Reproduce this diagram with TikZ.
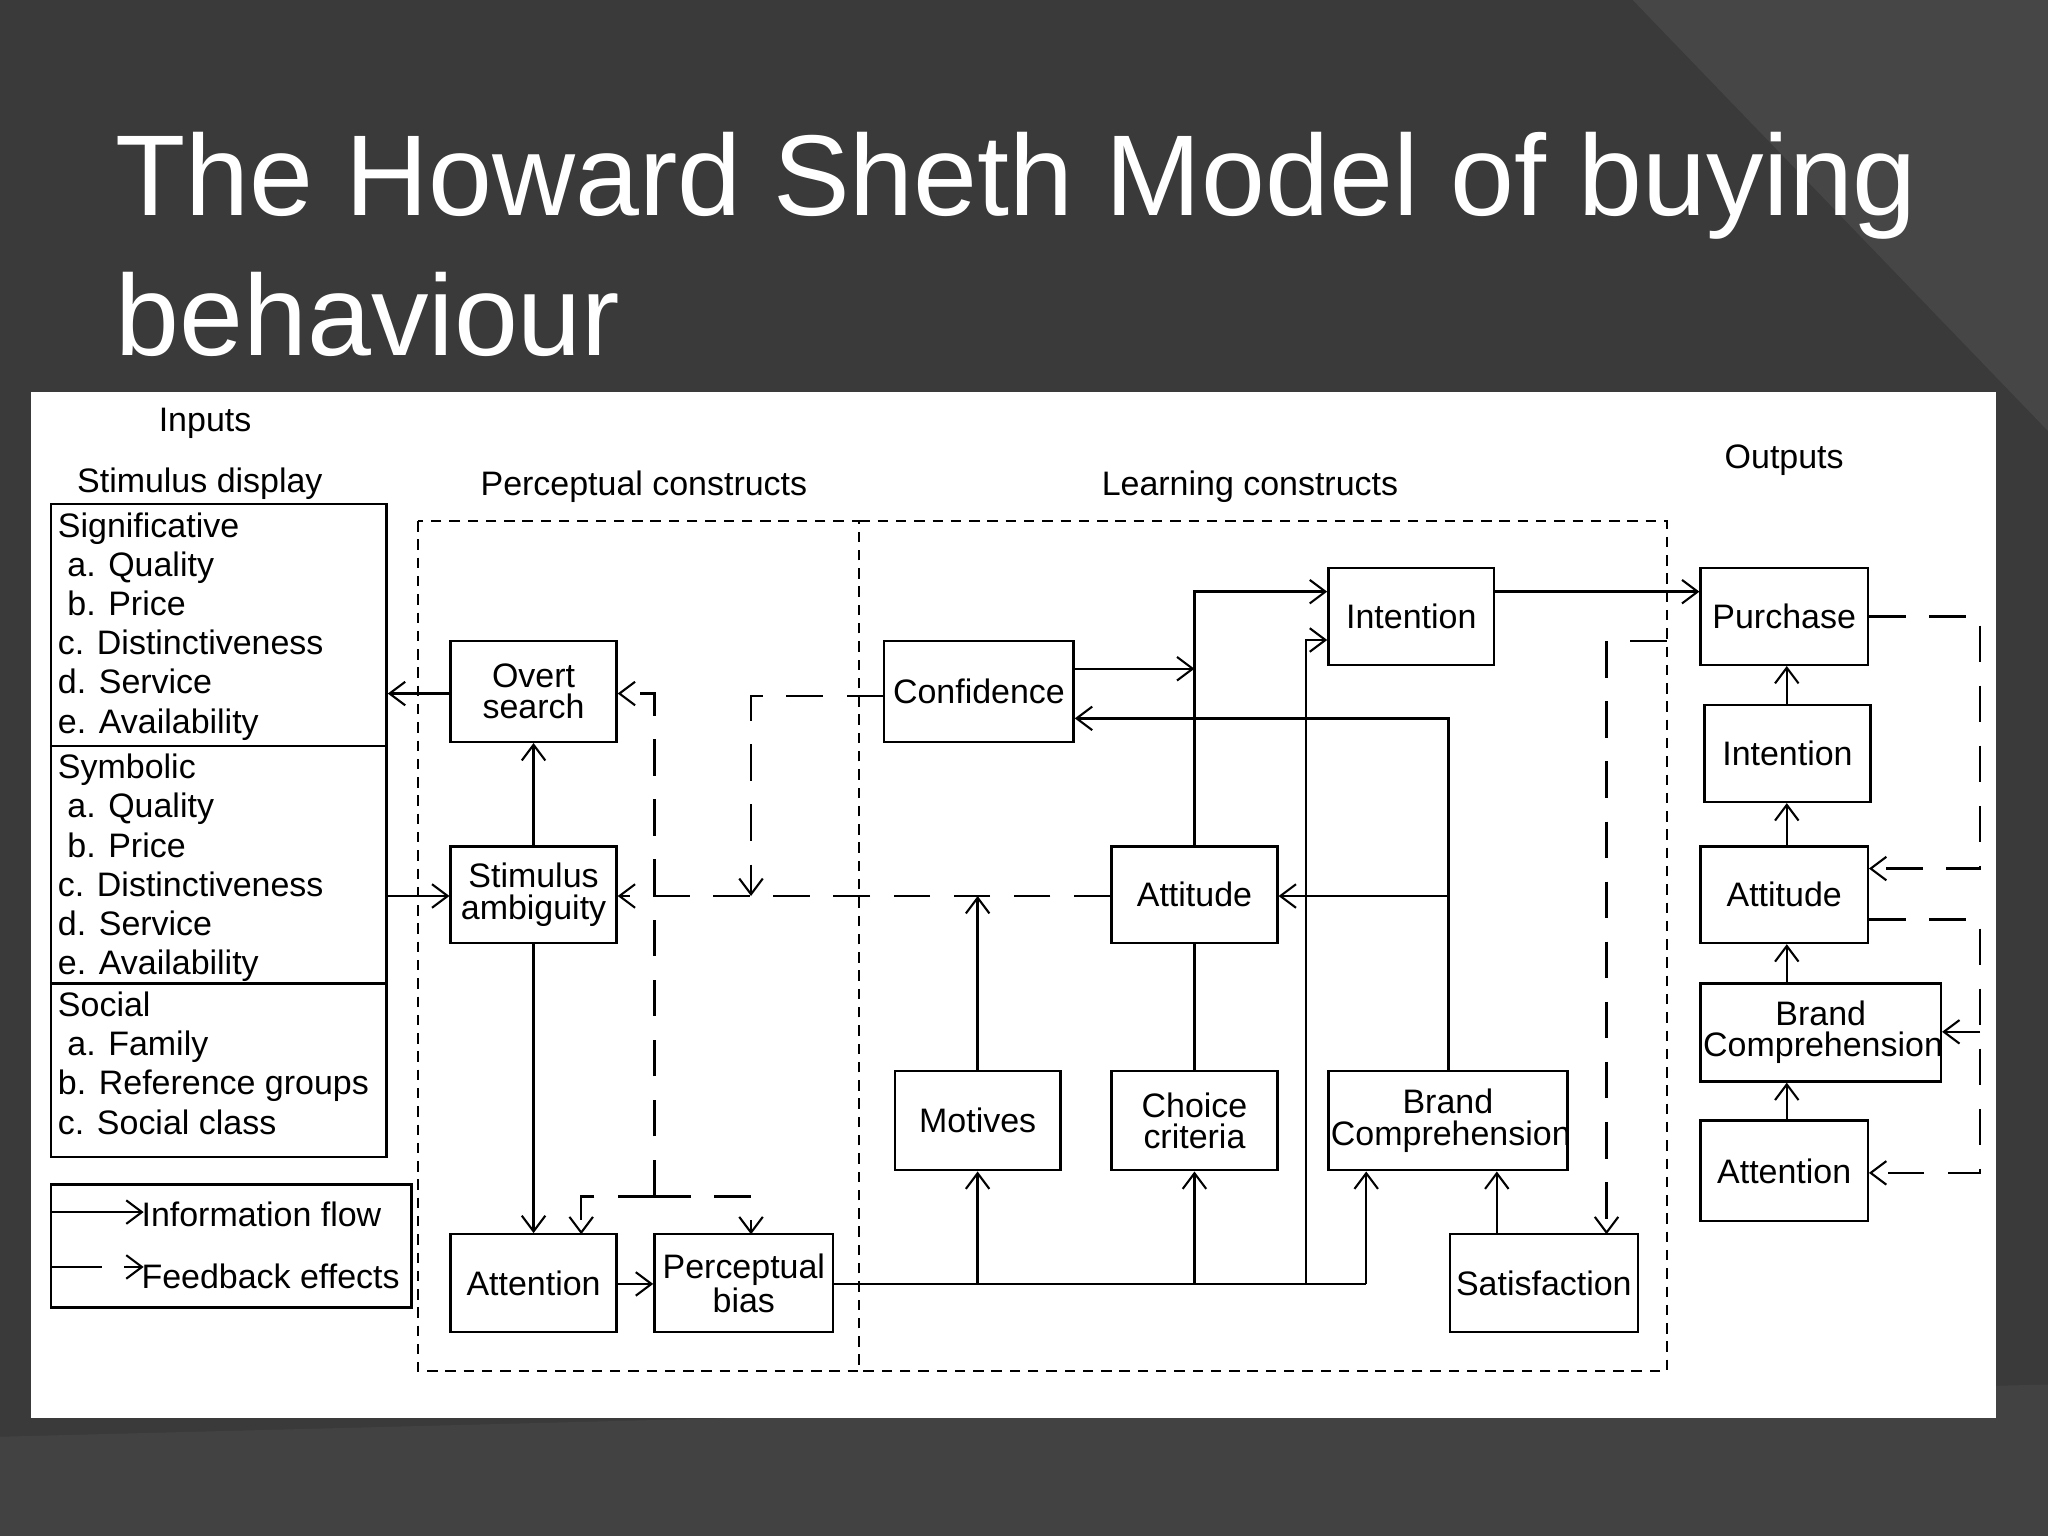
\documentclass[tikz,border=0pt]{standalone}
\usepackage{fontspec}
\setmainfont{Liberation Sans}
\usetikzlibrary{arrows.meta}
\tikzset{
 box/.style={draw,line width=0.9pt,inner sep=0pt,align=center,font=\fontsize{13}{12}\selectfont},
 lbl/.style={font=\fontsize{13}{14}\selectfont,inner sep=0pt},
 tip/.style={-{Straight Barb[length=6pt,width=9pt,line width=0.8pt]}},
 flow/.style={line width=0.9pt},
 fb/.style={line width=0.9pt,dash pattern=on 14pt off 9pt},
 region/.style={line width=0.8pt,dash pattern=on 4pt off 3pt}
}
\newcommand\bx[6]{\node[box,minimum width={(#4-#2)*0.5pt},minimum height={(#5-#3)*0.5pt},text width={(#4-#2)*0.5pt-2pt}] (#1) at ({(#2+#4)/2},{(#3+#5)/2}) {#6};}
\begin{document}
\begin{tikzpicture}[x=0.5pt,y=-0.5pt]
\useasboundingbox (0,0) rectangle (1568,1176);
\fill[fill={rgb,255:red,58;green,58;blue,58}] (0,0) rectangle (1568,1176);
\fill[fill={rgb,255:red,70;green,70;blue,70}] (1250,0) -- (1568,0) -- (1568,330) -- cycle;
\fill[fill={rgb,255:red,66;green,66;blue,66}] (0,1100) -- (1568,1060) -- (1568,1176) -- (0,1176) -- cycle;
\node[anchor=base west,text=white,font=\fontsize{44}{50}\selectfont,inner sep=0pt] (t1) at (88,165) {The Howard Sheth Model of buying};
\node[anchor=base west,text=white,font=\fontsize{44}{50}\selectfont,inner sep=0pt] (t2) at (88,272) {behaviour};
\fill[white] (24,300) rectangle (1528,1086);
% labels
\node[lbl] (l1) at (157,324) {Inputs};
\node[lbl] (l2) at (153,370) {Stimulus display};
\node[lbl] (l3) at (493,373) {Perceptual constructs};
\node[lbl] (l4) at (957,373) {Learning constructs};
\node[lbl] (l5) at (1366,352) {Outputs};
% regions
\draw[region] (320,399) rectangle (658,1050);
\draw[region] (658,399) -- (1276,399) -- (1276,1050) -- (658,1050);
% stimulus box
\node[draw,line width=0.9pt,minimum width=128.5pt,minimum height=250pt,inner sep=0pt] (stim) at (167.5,636) {};
\draw[line width=0.9pt] (stim.west |- 0,571) -- (stim.east |- 0,571);
\draw[line width=0.9pt] (stim.west |- 0,753) -- (stim.east |- 0,753);
\node[lbl,anchor=north west,align=left,font=\fontsize{13}{15}\selectfont] (s1) at (44,392) {Significative\\ \ a. Quality\\ \ b. Price\\c. Distinctiveness\\ d. Service\\ e. Availability};
\node[lbl,anchor=north west,align=left,font=\fontsize{13}{15}\selectfont] (s2) at (44,577) {Symbolic\\ \ a. Quality\\ \ b. Price\\c. Distinctiveness\\ d. Service\\ e. Availability};
\node[lbl,anchor=north west,align=left,font=\fontsize{13}{15}\selectfont] (s3) at (44,759) {Social\\ \ a. Family\\b. Reference groups\\ c. Social class};
% legend
\node[draw,line width=0.9pt,minimum width=138pt,minimum height=47pt,inner sep=0pt] (leg) at (177,954) {};
\coordinate (la) at (39,928); \coordinate (lb) at (110,928);
\draw[flow,tip] (la) -- (lb);
\node[lbl,anchor=west] (lt1) at (108,930) {Information flow};
\coordinate (lc) at (39,970); \coordinate (ld) at (78,970); \coordinate (le) at (95,970); \coordinate (lf) at (110,970);
\draw[flow] (lc) -- (ld);
\draw[flow,tip] (le) -- (lf);
\node[lbl,anchor=west] (lt2) at (108,977) {Feedback effects};
% boxes
\bx{os}{345}{491}{472}{568}{Overt\\search}
\bx{sa}{345}{648}{472}{722}{Stimulus\\ambiguity}
\bx{att}{345}{945}{472}{1020}{Attention}
\bx{pb}{501}{945}{638}{1020}{Perceptual\\bias}
\bx{conf}{677}{491}{822}{568}{Confidence}
\bx{atd}{851}{648}{978}{722}{Attitude}
\bx{mot}{685}{820}{812}{896}{Motives}
\bx{cc}{851}{820}{978}{896}{Choice\\criteria}
\bx{bc}{1017}{820}{1200}{896}{Brand\\Comprehension}
\bx{int}{1017}{435}{1144}{509}{Intention}
\bx{sat}{1110}{945}{1254}{1020}{Satisfaction}
\bx{pur}{1302}{435}{1430}{509}{Purchase}
\bx{int2}{1305}{540}{1432}{614}{Intention}
\bx{atd2}{1302}{648}{1430}{722}{Attitude}
\bx{bc2}{1302}{753}{1486}{828}{Brand\\Comprehension}
\bx{att2}{1302}{858}{1430}{935}{Attention}
% information flow
\draw[flow,tip] (sa.north) -- (os.south);
\draw[flow,tip] (os.west |- 0,531) -- (stim.east |- 0,531);
\draw[flow,tip] (stim.east |- 0,686) -- (sa.west |- 0,686);
\draw[flow,tip] (sa.south) -- (att.north);
\draw[flow,tip] (att.east |- 0,983) -- (pb.west |- 0,983);
\draw[flow] (pb.east |- 0,983) -- (1046,983);
\draw[flow,tip] (mot.south |- 0,983) -- (mot.south);
\draw[flow,tip] (cc.south |- 0,983) -- (cc.south);
\draw[flow,tip] (1000,983) -- (1000,490) -- (int.west |- 0,490);
\draw[flow,tip] (1046,983) -- (bc.south -| 1046,0);
\draw[flow,tip] (sat.north -| 1146,0) -- (bc.south -| 1146,0);
\draw[flow,tip] (mot.north) -- (mot.north |- 0,686);
\draw[flow] (cc.north) -- (atd.south);
\draw[flow,tip] (atd.north) -- (atd.north |- 0,453) -- (int.west |- 0,453);
\draw[flow,tip] (conf.east |- 0,512) -- (atd.north |- 0,512);
\draw[flow,tip] (bc.north -| 1109,0) -- (1109,686) -- (atd.east |- 0,686);
\draw[flow,tip] (1109,686) -- (1109,550) -- (conf.east |- 0,550);
\draw[flow,tip] (int.east |- 0,453) -- (pur.west |- 0,453);
\draw[flow,tip] (att2.north -| 1368,0) -- (bc2.south -| 1368,0);
\draw[flow,tip] (bc2.north -| 1368,0) -- (atd2.south -| 1368,0);
\draw[flow,tip] (atd2.north -| 1368,0) -- (int2.south -| 1368,0);
\draw[flow,tip] (int2.north -| 1368,0) -- (pur.south -| 1368,0);
% feedback
\draw[fb,tip] (conf.west |- 0,533) -- (575,533) -- (575,686);
\draw[fb,tip] (atd.west |- 0,686) -- (sa.east |- 0,686);
\draw[fb,tip] (501,916) -- (501,531) -- (os.east |- 0,531);
\draw[fb,tip] (501,916) -- (445,916) -- (445,945);
\draw[fb,tip] (501,916) -- (575,916) -- (575,945);
\draw[fb,tip] (1276,491) -- (1230,491) -- (1230,945);
\draw[fb,tip] (pur.east |- 0,472) -- (1516,472) -- (1516,665) -- (atd2.east |- 0,665);
\draw[fb,tip] (atd2.east |- 0,704) -- (1516,704) -- (1516,898) -- (att2.east |- 0,898);
\draw[fb,tip] (1516,790) -- (bc2.east |- 0,790);
\end{tikzpicture}
\end{document}
